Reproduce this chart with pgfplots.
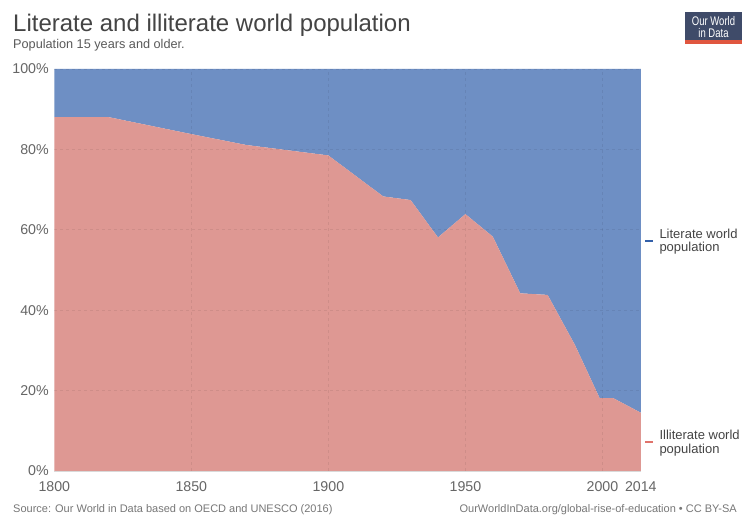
\documentclass[border=0pt]{standalone}
\usepackage{graphicx}
\usepackage{pgfplots}
\pgfplotsset{compat=1.18}
\usepackage{fontspec}
\setmainfont{Liberation Sans}

\definecolor{owidblue}{HTML}{6E8FC4}
\definecolor{owidred}{HTML}{DE9893}
\definecolor{legblue}{HTML}{3360A9}
\definecolor{legred}{HTML}{E0736B}
\definecolor{titlegray}{HTML}{444444}
\definecolor{subgray}{HTML}{5A5A5A}
\definecolor{tickgray}{HTML}{666666}
\definecolor{footgray}{HTML}{777777}
\definecolor{logonavy}{HTML}{3F4B69}
\definecolor{logored}{HTML}{E0563F}

% share of the population aged 15+ that cannot read and write, in percent
\pgfplotstableread{
year illiterate literate
1800 88.0 12.0
1820 88.0 12.0
1850 83.8 16.2
1870 81.1 18.9
1900 78.5 21.5
1910 73.4 26.6
1920 68.3 31.7
1930 67.4 32.6
1940 58.1 41.9
1950 63.9 36.1
1960 58.3 41.7
1970 44.2 55.8
1980 43.8 56.2
1990 31.3 68.7
1999 18.1 81.9
2004 18.1 81.9
2014 14.5 85.5
}\literacy

\begin{document}
\begin{tikzpicture}[x=1pt,y=1pt]
% canvas
\fill[white] (0,0) rectangle (750,529);

% header
\node[anchor=base west, inner sep=0, text=titlegray, font=\fontsize{24}{26}\selectfont] at (13,497) {Literate and illiterate world population};
\node[anchor=base west, inner sep=0, text=subgray, font=\fontsize{12.7}{14}\selectfont] at (13,480) {Population 15 years and older.};

% logo
\fill[logonavy] (685,489) rectangle (742,517);
\fill[logored] (685,485) rectangle (742,489);
\node[anchor=base, text=white, inner sep=0, font=\fontsize{12.5}{12}\selectfont] at (713.5,503.5) {\scalebox{0.76}[1]{Our World}};
\node[anchor=base, text=white, inner sep=0, font=\fontsize{12.5}{12}\selectfont] at (713.5,491.8) {\scalebox{0.76}[1]{in Data}};

\begin{axis}[
  at={(54.3pt,58pt)}, anchor=south west,
  scale only axis, width=586.5pt, height=402pt,
  xmin=1800, xmax=2014, ymin=0, ymax=100,
  stack plots=y,
  axis on top,
  axis x line*=bottom, axis y line*=left,
  x axis line style={-, draw=black!15, line width=0.6pt},
  y axis line style={-, draw=none},
  xtick={1800,1850,1900,1950,2000,2014},
  xticklabels={1800,1850,1900,1950,2000,2014},
  extra x ticks={1850,1900,1950,2000},
  extra x tick labels={},
  extra x tick style={grid=major},
  ytick={0,20,40,60,80,100},
  yticklabels={0\%,20\%,40\%,60\%,80\%,100\%},
  ymajorgrids,
  grid style={draw=black, opacity=0.07, dash pattern=on 3pt off 3pt, line width=0.6pt},
  major tick length=0pt,
  tick label style={text=tickgray, font=\fontsize{14.2}{16}\selectfont},
  xticklabel style={yshift=-7pt},
  yticklabel style={xshift=-2pt},
  clip=false,
]
\addplot[fill=owidred, draw=none] table[x=year, y=illiterate] {\literacy} \closedcycle;
\addplot[fill=owidblue, draw=none] table[x=year, y=literate] {\literacy} \closedcycle;

% series labels at the right end, each at the middle of its band
\fill[legblue] ([xshift=4.5pt,yshift=-1.1pt]rel axis cs:1,0.5725) rectangle ++(7.5pt,2.2pt);
\node[anchor=base west, align=left, inner sep=0, text=titlegray, font=\fontsize{13}{14}\selectfont]
  at ([xshift=18.5pt,yshift=2.5pt]rel axis cs:1,0.5725) {\begin{tabular}[t]{@{}l@{}}Literate world\\[-0.5pt]population\end{tabular}};
\fill[legred] ([xshift=4.5pt,yshift=-1.1pt]rel axis cs:1,0.0725) rectangle ++(7.5pt,2.2pt);
\node[anchor=base west, align=left, inner sep=0, text=titlegray, font=\fontsize{13}{14}\selectfont]
  at ([xshift=18.5pt,yshift=2pt]rel axis cs:1,0.0725) {\begin{tabular}[t]{@{}l@{}}Illiterate world\\[-0.5pt]population\end{tabular}};
\end{axis}

% footer
\node[anchor=base west, inner sep=0, text=footgray, font=\fontsize{11}{12}\selectfont] at (13,16) {Source: Our World in Data based on OECD and UNESCO (2016)};
\node[anchor=base east, inner sep=0, text=footgray, font=\fontsize{11}{12}\selectfont] at (737,16) {OurWorldInData.org/global-rise-of-education • CC BY-SA};
\end{tikzpicture}
\end{document}
